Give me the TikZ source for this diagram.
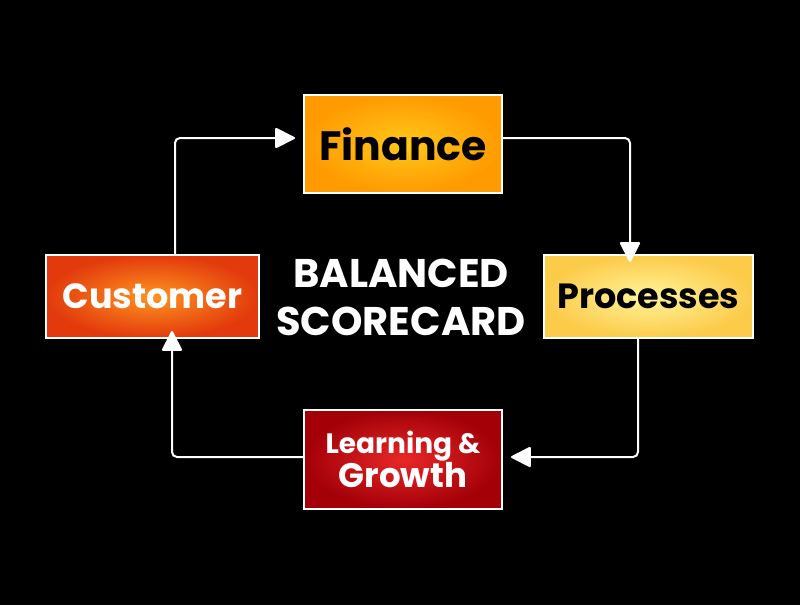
\documentclass[tikz,border=0pt]{standalone}
\usepackage{fontspec}
\setmainfont{Poppins}
\usetikzlibrary{arrows.meta}
\definecolor{finO}{HTML}{FF9A00}
\definecolor{finI}{HTML}{FFC81A}
\definecolor{cusO}{HTML}{E23A0C}
\definecolor{cusI}{HTML}{FF9420}
\definecolor{proO}{HTML}{FCCB4A}
\definecolor{proI}{HTML}{FFF49A}
\definecolor{lrnO}{HTML}{A30008}
\definecolor{lrnI}{HTML}{E82828}
\tikzset{
  card/.style={draw=white, line width=2pt, shading=radial, minimum width=#1, align=center, inner sep=0pt},
  link/.style={draw=white, line width=2pt, rounded corners=5pt,
    -{Triangle[length=21pt,width=21pt,fill=white,round]}},
}
\begin{document}
\begin{tikzpicture}[x=1pt,y=-1pt]
\fill[black] (0,0) rectangle (800,605);
\useasboundingbox (0,0) rectangle (800,605);
% boxes
\node[card=198pt, minimum height=98pt, inner color=finI, outer color=finO, text=black,
  font=\fontsize{41}{44}\selectfont\bfseries] (fin) at (403,144) {Finance};
\node[card=213pt, minimum height=83pt, inner color=cusI, outer color=cusO, text=white,
  font=\fontsize{35}{38}\selectfont\bfseries] (cus) at (152.5,296.5) {Customer};
\node[card=209pt, minimum height=83pt, inner color=proI, outer color=proO, text=black,
  font=\fontsize{35}{38}\selectfont\bfseries] (pro) at (648.5,296.5) {Processes};
\node[card=198pt, minimum height=99pt, inner color=lrnI, outer color=lrnO, text=white,
  font=\fontsize{28}{38}\selectfont\bfseries] (lrn) at (403,459.5)
  {Learning \&\\[-4pt]{\fontsize{34}{38}\selectfont Growth}};
% title
\node[align=center, text=white, font=\fontsize{40}{48}\selectfont\bfseries] (title) at (401,297)
  {BALANCED\\SCORECARD};
% connectors
\coordinate (c1) at (175,138);
\coordinate (c2) at (630,138);
\coordinate (c3) at (638,457);
\coordinate (c4) at (172,457);
\path[link] (cus.north -| c1) -- (c1) -- ([xshift=-8pt]fin.west |- c1);
\path[link] (fin.east |- c2) -- (c2) -- ([yshift=-8pt]pro.north -| c2);
\path[link] (pro.south -| c3) -- (c3) -- ([xshift=8pt]lrn.east |- c3);
\path[link] (lrn.west |- c4) -- (c4) -- ([yshift=8pt]cus.south -| c4);
\end{tikzpicture}
\end{document}
